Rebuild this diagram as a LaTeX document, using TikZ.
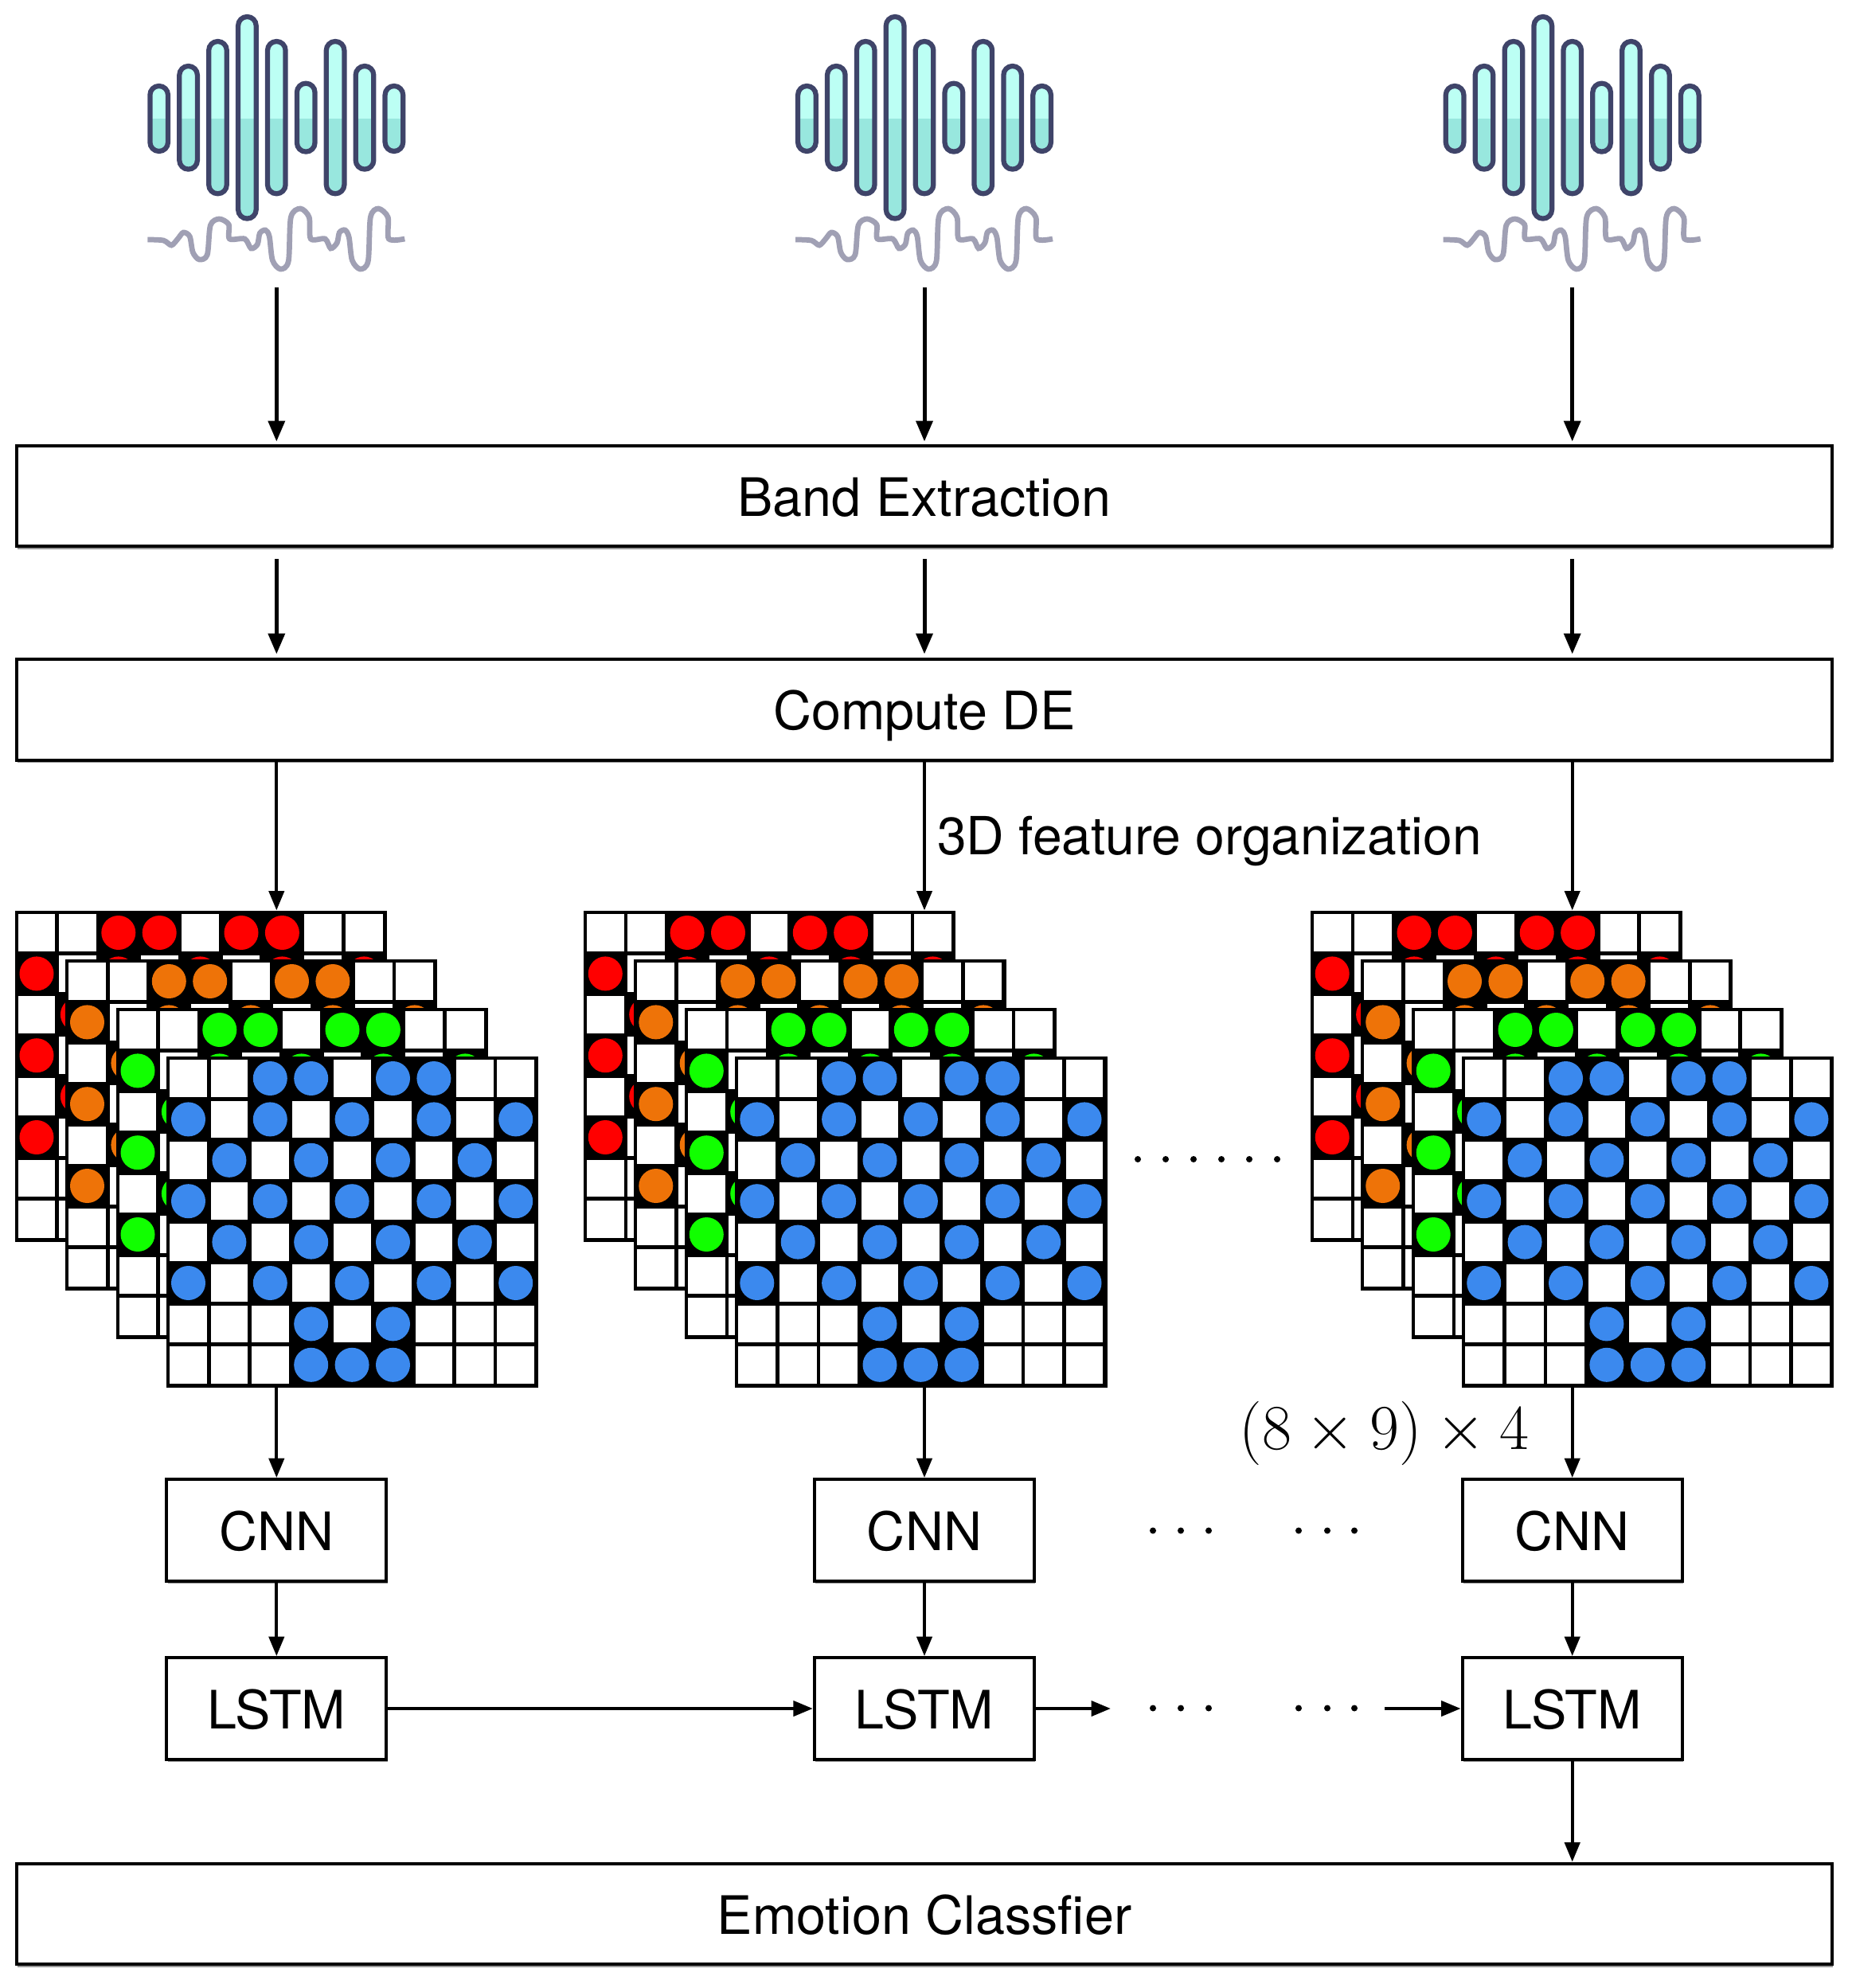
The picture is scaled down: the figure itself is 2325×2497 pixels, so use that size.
\documentclass[tikz,border=0pt]{standalone}
\usepackage[no-math]{fontspec}
\setmainfont{TeX Gyre Heros}
\usetikzlibrary{arrows.meta,shadows}

\definecolor{barlight}{HTML}{BCFFF4}
\definecolor{bardark}{HTML}{98E7DE}
\definecolor{barline}{HTML}{3F4469}
\definecolor{waveline}{HTML}{A0A0B4}
\definecolor{dotred}{HTML}{FF0000}
\definecolor{dotorange}{HTML}{EE7308}
\definecolor{dotgreen}{HTML}{11FF00}
\definecolor{dotblue}{HTML}{3B89EE}

\tikzset{
  stage/.style={draw=black,line width=1.7pt,fill=white,inner sep=0pt,
    text height=20pt,text depth=0pt,font=\fontsize{26.6}{30}\selectfont,
    drop shadow={shadow xshift=0.5pt,shadow yshift=-1.4pt,fill=black,opacity=0.4}},
  widestage/.style={stage,minimum width=912pt,minimum height=50.6pt},
  netbox/.style={stage,minimum width=110.4pt,minimum height=51pt},
  slicebg/.style={fill=black,inner sep=0pt,anchor=north west,
    minimum width=186.9pt,minimum height=166.3pt},
  arr/.style={-{Triangle[length=9.8pt,width=7.6pt]},line width=1.7pt,black},
  thickarr/.style={-{Triangle[length=10.4pt,width=8.2pt]},line width=2pt,black},
  textlabel/.style={anchor=base west,inner sep=0pt},
}

% one sound wave icon, #1 is the centre
\newcommand{\soundwave}[1]{
\begin{scope}[shift={(#1,0)}]
\foreach \dx/\ytop/\ybot in {-147.6/108/190,-110.7/83/212.6,-73.8/52/243.3,-36.9/21/274.6,0/52/243.3,36.9/104.7/190.6,73.8/52/243.3,110.7/83/212.6,147.6/108/190}{
  \begin{scope}
  \clip[rounded corners=4.5pt] ({\dx-11.3},\ytop) rectangle ({\dx+11.3},\ybot);
  \fill[barlight] ({\dx-11.3},\ytop) rectangle ({\dx+11.3},148.7);
  \fill[bardark] ({\dx-11.3},148.7) rectangle ({\dx+11.3},\ybot);
  \end{scope}
  \draw[barline,line width=2.5pt,rounded corners=4.5pt] ({\dx-11.3},\ytop) rectangle ({\dx+11.3},\ybot);
}
\draw[waveline,line width=2.7pt] plot[smooth,tension=0.5] coordinates {
  (-162,301) (-142,302) (-132,308) (-124,300) (-117,292) (-109,297) (-105,317)
  (-97,326) (-87,320) (-83,283) (-72,275) (-60,282) (-59,300) (-40,300) (-32,312)
  (-24,307) (-21,293) (-14,289) (-9,297) (-5,327) (5,338) (15,328) (18,273) (30,262)
  (41,273) (43,300) (61,300) (68,312) (76,305) (79,292) (86,289) (91,298) (95,327)
  (105,338) (115,328) (118,273) (128,262) (140,273) (141,300) (161,300)};
\end{scope}
}

% one 8x9 slice, #1 name, #2 left, #3 top, #4 colour
\newcommand{\bandslice}[4]{
\node[slicebg] (#1) at (#2,#3) {};
\foreach \r/\pat in {1/{0,0,1,1,0,1,1,0,0},2/{1,0,1,0,1,0,1,0,1},3/{0,1,0,1,0,1,0,1,0},4/{1,0,1,0,1,0,1,0,1},5/{0,1,0,1,0,1,0,1,0},6/{1,0,1,0,1,0,1,0,1},7/{0,0,0,1,0,1,0,0,0},8/{0,0,0,1,1,1,0,0,0}}{
  \foreach \v [count=\c] in \pat {
    \pgfmathsetmacro{\cx}{#2+2.3+(\c-0.5)*51.4}
    \pgfmathsetmacro{\cy}{#3+2.3+(\r-0.5)*51.4}
    \ifnum\v=1
      \fill[#4] (\cx,\cy) circle (21.5);
    \else
      \fill[white] ({\cx-23.4},{\cy-23.4}) rectangle ({\cx+23.4},{\cy+23.4});
    \fi
  }
}
}

% four slices, #1 letter, #2 left
\newcommand{\slicestack}[2]{
\bandslice{slice#1a}{#2}{1143.5}{dotred}
\bandslice{slice#1b}{#2+63.5}{1204.5}{dotorange}
\bandslice{slice#1c}{#2+127}{1265.5}{dotgreen}
\bandslice{slice#1d}{#2+190.5}{1326.5}{dotblue}
}

\begin{document}
\begin{tikzpicture}[x=0.4pt,y=-0.4pt]
\useasboundingbox (0,0) rectangle (2325,2497);

\soundwave{347.3}
\soundwave{1161}
\soundwave{1974.7}

\coordinate (waveA) at (347.3,361);
\coordinate (waveB) at (1161,361);
\coordinate (waveC) at (1974.7,361);

\node[widestage] (band) at (1161,623) {Band Extraction};
\node[widestage] (de) at (1161,891.5) {Compute DE};
\node[widestage] (classifier) at (1161,2404) {Emotion Classfier};

\slicestack{A}{18}
\slicestack{B}{732.3}
\slicestack{C}{1645.2}

\node[netbox] (cnnA) at (347.3,1922) {CNN};
\node[netbox] (cnnB) at (1161,1922) {CNN};
\node[netbox] (cnnC) at (1974.7,1922) {CNN};
\node[netbox] (lstmA) at (347.3,2146) {LSTM};
\node[netbox] (lstmB) at (1161,2146) {LSTM};
\node[netbox] (lstmC) at (1974.7,2146) {LSTM};

\node[textlabel,font=\fontsize{26.4}{30}\selectfont] (orglabel) at (1176.6,1073) {3D feature organization};
\node[textlabel,font=\huge,scale=1.55] (sizelabel) at (1556,1820) {$(8\times 9)\times 4$};

% dots between the stacks and the boxes
\foreach \x in {1429,1464,1499,1534,1569,1604}
  \fill[black] (\x,1456) circle (4);
\foreach \x in {1448,1483,1518,1631,1667,1701}{
  \fill[black] (\x,1922.5) circle (4);
  \fill[black] (\x,2145.5) circle (4);
}

\foreach \k in {A,B,C}{
  \draw[thickarr,shorten >=1.2pt] (wave\k) -- (band.north -| wave\k);
  \draw[thickarr,shorten <=5.6pt,shorten >=1.8pt] (band.south -| wave\k) -- (de.north -| wave\k);
  \draw[arr] (de.south -| wave\k) -- (slice\k a.north -| wave\k);
  \draw[arr] (slice\k d.south -| wave\k) -- (cnn\k);
  \draw[arr] (cnn\k) -- (lstm\k);
}
\draw[arr] (lstmA) -- (lstmB);
\coordinate (gapA) at (1395,2146);
\coordinate (gapB) at (1739,2146);
\draw[arr] (lstmB) -- (gapA);
\draw[arr] (gapB) -- (lstmC);
\draw[arr] (lstmC) -- (classifier.north -| lstmC);
\end{tikzpicture}
\end{document}
